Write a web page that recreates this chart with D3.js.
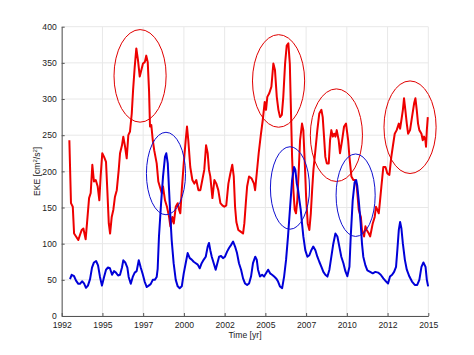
<!DOCTYPE html>
<html><head><meta charset="utf-8">
<script src="https://cdn.jsdelivr.net/npm/d3@7/dist/d3.min.js"></script>
<style>body{margin:0;background:#fff}svg{display:block}text{font-family:"Liberation Sans",Arial,sans-serif}</style>
</head><body><svg id="c" width="474" height="355"></svg>
<script>
const xTickValues = [1992.5,1995,1997.5,2000,2002.5,2005,2007.5,2010,2012.5,2015];
const xTickLabels = ["1992","1995","1997","2000","2002","2005","2007","2010","2012","2015"];
const yTicks = [0,50,100,150,200,250,300,350,400];

const redYears = [1992.97,1993.07,1993.18,1993.26,1993.38,1993.52,1993.62,1993.73,1993.83,1993.97,1994.07,1994.18,1994.28,1994.38,1994.48,1994.59,1994.71,1994.81,1994.89,1994.99,1995.10,1995.22,1995.30,1995.39,1995.47,1995.57,1995.67,1995.77,1995.88,1996.00,1996.08,1996.20,1996.28,1996.39,1996.49,1996.59,1996.69,1996.80,1996.88,1996.98,1997.08,1997.18,1997.29,1997.39,1997.49,1997.60,1997.69,1997.78,1997.86,1997.92,1998.00,1998.09,1998.18,1998.33,1998.43,1998.52,1998.64,1998.72,1998.84,1998.96,1999.09,1999.17,1999.29,1999.38,1999.50,1999.62,1999.70,1999.78,1999.87,1999.99,2000.11,2000.19,2000.27,2000.39,2000.52,2000.64,2000.76,2000.89,2001.01,2001.13,2001.25,2001.36,2001.46,2001.54,2001.62,2001.75,2001.87,2001.99,2002.11,2002.24,2002.36,2002.48,2002.60,2002.73,2002.85,2002.97,2003.06,2003.14,2003.22,2003.34,2003.46,2003.63,2003.71,2003.80,2003.88,2004.00,2004.16,2004.30,2004.37,2004.47,2004.59,2004.72,2004.84,2004.96,2005.04,2005.12,2005.24,2005.37,2005.49,2005.59,2005.70,2005.80,2005.90,2006.01,2006.10,2006.21,2006.31,2006.41,2006.50,2006.56,2006.64,2006.72,2006.80,2006.88,2006.96,2007.05,2007.13,2007.25,2007.33,2007.42,2007.50,2007.60,2007.70,2007.79,2007.87,2007.95,2008.07,2008.19,2008.31,2008.44,2008.52,2008.60,2008.68,2008.77,2008.89,2008.97,2009.05,2009.14,2009.22,2009.30,2009.38,2009.50,2009.58,2009.71,2009.83,2009.95,2010.08,2010.16,2010.28,2010.40,2010.52,2010.61,2010.73,2010.86,2010.93,2011.06,2011.14,2011.22,2011.35,2011.43,2011.51,2011.59,2011.71,2011.79,2011.87,2011.96,2012.04,2012.12,2012.24,2012.37,2012.49,2012.61,2012.73,2012.82,2012.94,2013.06,2013.19,2013.27,2013.35,2013.44,2013.51,2013.59,2013.68,2013.76,2013.88,2014.00,2014.13,2014.21,2014.29,2014.37,2014.45,2014.58,2014.66,2014.74,2014.82,2014.86,2014.91,2014.97];
const redValues = [243,156,151,114,110,105,112,119,121,106,133,163,170,209,186,188,179,160,193,225,220,213,174,128,114,137,147,165,174,202,225,236,248,234,218,250,255,280,312,344,370,354,331,340,349,351,360,351,312,262,264,243,229,211,186,179,170,179,160,151,137,124,137,128,151,156,147,142,174,211,243,262,243,206,188,183,188,174,174,188,202,236,225,202,193,163,188,183,174,156,153,151,153,183,197,209,193,151,130,119,117,114,128,156,179,193,190,183,174,197,225,250,271,296,285,303,308,317,349,340,303,285,275,278,303,349,374,377,349,294,220,174,147,142,160,202,243,266,257,211,165,128,119,142,174,202,229,257,280,285,275,248,220,211,211,243,257,248,252,248,257,243,225,243,262,266,243,220,193,188,188,179,147,137,119,110,124,119,114,110,119,128,137,151,147,142,160,179,206,206,197,195,220,234,252,257,266,259,271,285,301,285,266,252,257,275,294,301,285,266,257,252,243,248,243,234,257,275];

const blueYears = [1993.01,1993.11,1993.26,1993.38,1993.52,1993.62,1993.75,1993.87,1993.99,1994.11,1994.24,1994.36,1994.48,1994.61,1994.73,1994.85,1994.97,1995.10,1995.22,1995.34,1995.46,1995.59,1995.71,1995.83,1995.96,1996.08,1996.20,1996.28,1996.40,1996.53,1996.61,1996.74,1996.86,1996.98,1997.10,1997.23,1997.35,1997.47,1997.60,1997.72,1997.84,1997.96,1998.09,1998.21,1998.33,1998.39,1998.47,1998.60,1998.72,1998.84,1998.92,1999.01,1999.09,1999.17,1999.25,1999.37,1999.50,1999.62,1999.74,1999.87,1999.99,2000.11,2000.23,2000.36,2000.48,2000.60,2000.73,2000.85,2000.97,2001.09,2001.22,2001.34,2001.46,2001.54,2001.62,2001.71,2001.83,2001.95,2002.03,2002.16,2002.28,2002.40,2002.52,2002.65,2002.77,2002.89,2003.02,2003.14,2003.26,2003.38,2003.51,2003.63,2003.75,2003.88,2004.00,2004.12,2004.24,2004.38,2004.47,2004.55,2004.67,2004.80,2004.92,2005.04,2005.17,2005.29,2005.41,2005.54,2005.66,2005.78,2005.90,2006.03,2006.15,2006.27,2006.39,2006.52,2006.64,2006.76,2006.84,2006.93,2007.01,2007.09,2007.17,2007.25,2007.33,2007.45,2007.58,2007.70,2007.82,2007.94,2008.07,2008.19,2008.31,2008.44,2008.56,2008.68,2008.81,2008.93,2009.05,2009.17,2009.30,2009.42,2009.54,2009.66,2009.79,2009.91,2010.03,2010.16,2010.24,2010.36,2010.48,2010.57,2010.64,2010.73,2010.85,2010.93,2011.01,2011.14,2011.26,2011.43,2011.59,2011.75,2011.92,2012.08,2012.24,2012.41,2012.53,2012.65,2012.78,2012.90,2013.02,2013.10,2013.19,2013.27,2013.35,2013.44,2013.56,2013.68,2013.84,2014.00,2014.17,2014.32,2014.45,2014.58,2014.70,2014.83,2014.91,2014.99];
const blueValues = [51,57,55,49,44.5,44.5,48,45,39,42,51,67,74,76,70,54,42,54,64,67,66,57,62,60,56,57,67,77,74,67,54,44.5,54,60,62,77,67,58,47,40,42,44,50,50,54,65,110,156,193,220,225,211,174,137,105,73,50,41,38.5,41,59,73,87,80,78,75,73,71,66,73,78,82,96,101,91,82,73,64,71,82,83,80,82,89,94,98,103,96,87,73,64,52,45,43,45,54.5,73,82,78,64,54.5,57,54.5,59,64,59,57,54.5,52,47.6,40.7,38.5,54.5,77.6,110,151,188,206,202,183,174,160,147,128,110,91,82,84,91,96,91,82,75,68,61,57,54.5,64,82,100,114,110,96,82,73,62,55,68,110,160,185,188,180,160,128,100,82,70,63,61,59,61,60,57,52,47.6,45,54.5,57,61,68,91,119,130,121,100,78,64,54.5,47.6,43,43,50,68,74,68,50,41];

// highlight ellipses: centre year, centre value, radius in years, radius in value units
const redEllipses = [[1997.31,332,1.6,64],[2005.81,325,1.6,64],[2009.36,250,1.6,64],[2013.88,261,1.6,64]];
const blueEllipses = [[1998.90,197,1.2,57],[2006.51,177,1.2,57],[2010.54,167,1.2,57]];

const svg = d3.select("#c");
const m = {l:61.7, r:428.3, t:26.7, b:316};
const x = d3.scaleLinear().domain([1992.5,2015]).range([m.l,m.r]);
const y = d3.scaleLinear().domain([0,400]).range([m.b,m.t]);

// grid
svg.append("g").selectAll("line").data(xTickValues).join("line")
  .attr("x1",d=>x(d)).attr("x2",d=>x(d)).attr("y1",m.t).attr("y2",m.b)
  .attr("stroke","#e8e8e8").attr("stroke-width",1);
svg.append("g").selectAll("line").data(yTicks).join("line")
  .attr("x1",m.l).attr("x2",m.r).attr("y1",d=>y(d)).attr("y2",d=>y(d))
  .attr("stroke","#e8e8e8").attr("stroke-width",1);

// axes
const xa = svg.append("g").attr("transform",`translate(0,${m.b})`)
  .call(d3.axisBottom(x).tickValues(xTickValues).tickFormat((d,i)=>xTickLabels[i]).tickSizeInner(-3).tickSizeOuter(0).tickPadding(6));
const ya = svg.append("g").attr("transform",`translate(${m.l},0)`)
  .call(d3.axisLeft(y).tickValues(yTicks).tickSizeInner(-3).tickSizeOuter(0).tickPadding(5));
[xa,ya].forEach(a=>{
  a.select(".domain").attr("stroke","#555");
  a.selectAll(".tick line").attr("stroke","#555");
  a.selectAll("text").attr("font-size","8.6px").attr("fill","#222").attr("font-family","Liberation Sans, Arial, sans-serif");
});

const line = d3.line().x(d=>x(d[0])).y(d=>y(d[1]));
svg.append("path").datum(d3.zip(redYears,redValues)).attr("d",line)
  .attr("fill","none").attr("stroke","#ee0000").attr("stroke-width",2).attr("stroke-linejoin","round");
svg.append("path").datum(d3.zip(blueYears,blueValues)).attr("d",line)
  .attr("fill","none").attr("stroke","#0000d8").attr("stroke-width",2).attr("stroke-linejoin","round");

svg.append("g").selectAll("ellipse").data(redEllipses).join("ellipse")
  .attr("cx",d=>x(d[0])).attr("cy",d=>y(d[1]))
  .attr("rx",d=>x(d[0]+d[2])-x(d[0])).attr("ry",d=>y(0)-y(d[3]))
  .attr("fill","none").attr("stroke","#e00000").attr("stroke-width",1);
svg.append("g").selectAll("ellipse").data(blueEllipses).join("ellipse")
  .attr("cx",d=>x(d[0])).attr("cy",d=>y(d[1]))
  .attr("rx",d=>x(d[0]+d[2])-x(d[0])).attr("ry",d=>y(0)-y(d[3]))
  .attr("fill","none").attr("stroke","#1010d0").attr("stroke-width",1);

svg.append("text").attr("x",(m.l+m.r)/2).attr("y",338).attr("text-anchor","middle")
  .attr("font-size","8.6px").attr("fill","#222").text("Time [yr]");
const yl = svg.append("text").attr("transform",`translate(40,${(m.t+m.b)/2}) rotate(-90)`)
  .attr("text-anchor","middle").attr("font-size","8.6px").attr("fill","#222");
yl.append("tspan").text("EKE [cm");
yl.append("tspan").attr("dy","-3").attr("font-size","6px").text("2");
yl.append("tspan").attr("dy","3").text("/s");
yl.append("tspan").attr("dy","-3").attr("font-size","6px").text("2");
yl.append("tspan").attr("dy","3").text("]");
</script></body></html>
